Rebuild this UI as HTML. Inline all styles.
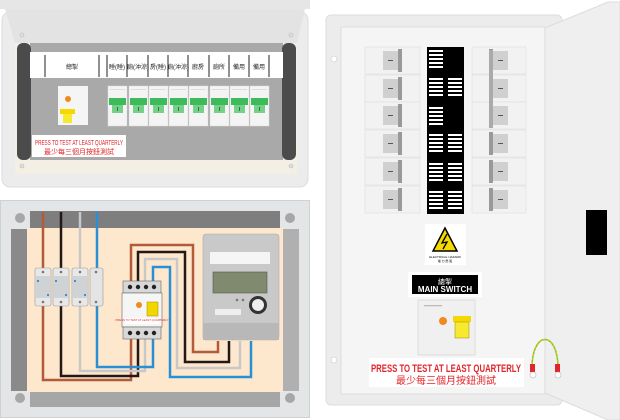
<!DOCTYPE html>
<html><head><meta charset="utf-8"><style>
html,body{margin:0;padding:0;background:#fff;width:620px;height:420px;overflow:hidden}
svg{display:block}
text{font-family:"Liberation Sans","Noto Sans CJK TC",sans-serif}
</style></head><body>
<svg width="620" height="420" viewBox="0 0 620 420" xmlns="http://www.w3.org/2000/svg">
<defs>
<g id="mcb"><rect x="0" y="0" width="19" height="40" fill="#f4f4f4" stroke="#ddd" stroke-width="0.5"/><rect x="1" y="12" width="17" height="7" fill="#3dbb5b"/><rect x="4" y="19" width="11" height="8" fill="#77d08a"/><rect x="9" y="21" width="1" height="4" fill="#2a7a3a"/><rect x="2" y="3" width="15" height="1" fill="#ddd"/></g>
<g id="brk"><rect x="0" y="0" width="55" height="27" fill="#f2f2f2" stroke="#ddd" stroke-width="0.6"/><rect x="18" y="4" width="15" height="19" fill="#d0d0d0"/><rect x="33" y="2" width="4" height="23" fill="#999"/><rect x="23" y="13" width="5" height="1" fill="#555"/></g>
<g id="brkR"><rect x="0" y="0" width="54" height="27" fill="#f2f2f2" stroke="#ddd" stroke-width="0.6"/><rect x="21" y="4" width="15" height="19" fill="#d0d0d0"/><rect x="17" y="2" width="4" height="23" fill="#999"/><rect x="26" y="13" width="5" height="1" fill="#555"/></g>
<g id="bars" fill="#fff"><rect x="0" y="0" width="14" height="2"/><rect x="0" y="4" width="14" height="2"/><rect x="0" y="8" width="14" height="2"/><rect x="0" y="12" width="14" height="2"/><rect x="0" y="16" width="14" height="2"/></g>
<g id="fuse"><rect x="0" y="0" width="16" height="38" rx="2" fill="#e8e8e8" stroke="#999" stroke-width="0.6"/><rect x="1" y="8" width="14" height="22" fill="#cfd3d6"/><circle cx="8" cy="4" r="1.3" fill="#777"/><circle cx="8" cy="34" r="1.3" fill="#777"/><rect x="2" y="12" width="2" height="2" fill="#3a8fd6"/><rect x="12" y="26" width="2" height="2" fill="#3a8fd6"/></g>
</defs>

<!-- TOP LEFT PANEL -->
<rect x="2" y="12" width="306" height="175" rx="8" fill="#ececec" stroke="#dcdcdc"/>
<rect x="15" y="29" width="282" height="145" fill="#f3efe4"/>
<rect x="0" y="0" width="310" height="9" fill="#e6e6e6"/>
<polygon points="5,9 305,9 297,43 15,43" fill="#e3e3e3"/>
<rect x="30" y="43" width="253" height="117" fill="#a9a9a9"/>
<rect x="17" y="43" width="14" height="117" rx="6" fill="#4b4b4b"/>
<rect x="282" y="43" width="14" height="117" rx="6" fill="#4b4b4b"/>
<rect x="30" y="52" width="253" height="26" fill="#fff"/>
<g stroke="#222" stroke-width="1"><line x1="45" y1="55" x2="45" y2="77"/><line x1="99" y1="55" x2="99" y2="77"/><line x1="107" y1="55" x2="107" y2="77"/><line x1="127" y1="55" x2="127" y2="77"/><line x1="148" y1="55" x2="148" y2="77"/><line x1="168" y1="55" x2="168" y2="77"/><line x1="188" y1="55" x2="188" y2="77"/><line x1="209" y1="55" x2="209" y2="77"/><line x1="229" y1="55" x2="229" y2="77"/><line x1="249" y1="55" x2="249" y2="77"/><line x1="269" y1="55" x2="269" y2="77"/></g>
<g font-size="6" fill="#222" text-anchor="middle"><text x="72" y="69">總掣</text><text x="117" y="69">睡(睡)</text><text x="138" y="69">廁(沖涼)</text><text x="158" y="69">房(睡)</text><text x="178" y="69">廁(沖涼)</text><text x="198" y="69">廚房</text><text x="219" y="69">廁所</text><text x="239" y="69">備用</text><text x="259" y="69">備用</text></g>
<rect x="58" y="86" width="30" height="39" fill="#f5f5f5"/>
<circle cx="68" cy="99" r="3" fill="#f08a1c"/>
<rect x="60" y="109" width="15" height="5" fill="#f5d800"/><rect x="63" y="114" width="9" height="9" fill="#f7e830"/>
<use href="#mcb" x="108" y="86"/><use href="#mcb" x="129" y="86"/><use href="#mcb" x="149" y="86"/><use href="#mcb" x="169" y="86"/><use href="#mcb" x="189" y="86"/><use href="#mcb" x="210" y="86"/><use href="#mcb" x="230" y="86"/><use href="#mcb" x="250" y="86"/>
<rect x="32" y="135" width="94" height="22" fill="#fff"/>
<text x="79" y="145" font-size="7" fill="#e0262b" text-anchor="middle" textLength="88" lengthAdjust="spacingAndGlyphs">PRESS TO TEST AT LEAST QUARTERLY</text>
<text x="79" y="154" font-size="7" fill="#e0262b" text-anchor="middle">最少每三個月按鈕測試</text>
<g fill="#ddd" stroke="#bbb" stroke-width="0.6"><circle cx="22" cy="35" r="2"/><circle cx="291" cy="35" r="2"/><circle cx="22" cy="166" r="2"/><circle cx="291" cy="166" r="2"/></g>

<!-- BOTTOM LEFT PANEL -->
<rect x="0.5" y="200.5" width="309" height="217" fill="#e3e5e7" stroke="#cfd2d5"/>
<rect x="30" y="211" width="250" height="17" fill="#7e7e7e"/>
<rect x="30" y="392" width="250" height="15" fill="#a6a6a6"/>
<rect x="11" y="229" width="16" height="162" fill="#8a8a8a"/>
<rect x="283" y="229" width="16" height="162" fill="#b0b0b0"/>
<rect x="27" y="228" width="256" height="164" fill="#fde8cd"/>
<g fill="#a7a7a7"><circle cx="20" cy="218" r="5"/><circle cx="290" cy="218" r="5"/><circle cx="20" cy="398" r="5"/><circle cx="290" cy="398" r="5"/></g>
<g fill="none" stroke-width="2.5">
<polyline points="43,212 43,380 131,380 131,245 193,245 193,352 218,352 218,341" stroke="#b35a3a"/>
<polyline points="61,212 61,376 138,376 138,252 185,252 185,362 229,362 229,341" stroke="#231815"/>
<polyline points="80,212 80,371 145,371 145,259 177,259 177,368 240,368 240,341" stroke="#c8c8c8"/>
<polyline points="97,212 97,367 153,367 153,267 170,267 170,377 251,377 251,341" stroke="#2b8fd6"/>
</g>
<use href="#fuse" x="35" y="268"/><use href="#fuse" x="53" y="268"/><use href="#fuse" x="72" y="268"/>
<rect x="90" y="268" width="13" height="38" rx="2" fill="#e4e4e4" stroke="#999" stroke-width="0.6"/><circle cx="96" cy="272" r="1.3" fill="#777"/><circle cx="96" cy="302" r="1.3" fill="#777"/>
<rect x="123" y="281" width="38" height="12" fill="#d8d8d8" stroke="#666" stroke-width="0.6"/>
<g fill="#222"><circle cx="130" cy="287" r="2.2"/><circle cx="138" cy="287" r="2.2"/><circle cx="146" cy="287" r="2.2"/><circle cx="154" cy="287" r="2.2"/><circle cx="130" cy="333" r="2.2"/><circle cx="138" cy="333" r="2.2"/><circle cx="146" cy="333" r="2.2"/><circle cx="154" cy="333" r="2.2"/></g>
<rect x="122" y="293" width="40" height="34" fill="#f5f5f5" stroke="#666" stroke-width="0.6"/>
<rect x="123" y="327" width="38" height="12" fill="#d8d8d8" stroke="#666" stroke-width="0.6"/>
<g fill="#222"><circle cx="130" cy="333" r="2.2"/><circle cx="138" cy="333" r="2.2"/><circle cx="146" cy="333" r="2.2"/><circle cx="154" cy="333" r="2.2"/></g>
<circle cx="139" cy="305" r="3" fill="#f08a1c"/>
<rect x="147" y="302" width="11" height="14" fill="#f2d600" stroke="#a08b00" stroke-width="0.5"/>
<rect x="125" y="318" width="34" height="6" fill="#fff"/>
<text x="142" y="321" font-size="2.8" fill="#e0262b" text-anchor="middle">PRESS TO TEST AT LEAST QUARTERLY</text>
<rect x="203" y="234" width="76" height="106" rx="3" fill="#c9c9c9" stroke="#aaa" stroke-width="0.6"/>
<rect x="203" y="323" width="76" height="17" fill="#b8b8b8"/>
<rect x="210" y="252" width="60" height="12" fill="#f5f5f5"/>
<rect x="213" y="272" width="54" height="21" fill="#7f8a6e" stroke="#555" stroke-width="0.6"/>
<rect x="215" y="309" width="26" height="6" fill="#eee"/>
<circle cx="237" cy="300" r="1.3" fill="#777"/><circle cx="243" cy="300" r="1.3" fill="#777"/>
<circle cx="258" cy="305" r="9" fill="#333"/><circle cx="258" cy="305" r="6" fill="#eee"/>

<!-- RIGHT PANEL -->
<rect x="326" y="15" width="236" height="390" rx="5" fill="#ececec" stroke="#ddd"/>
<rect x="341" y="27" width="204" height="367" fill="#f5f5f5" stroke="#ddd"/>
<polygon points="545,28 608,2 620,2 620,420 608,420 545,393" fill="#efefef" stroke="#dcdcdc"/>
<rect x="586" y="210" width="21" height="45" fill="#000"/>
<g fill="#fff" stroke="#ccc" stroke-width="0.6"><circle cx="334" cy="59" r="3"/><circle cx="334" cy="360" r="3"/></g>
<use href="#brk" x="365" y="47"/><use href="#brk" x="365" y="75"/><use href="#brk" x="365" y="102"/><use href="#brk" x="365" y="130"/><use href="#brk" x="365" y="158"/><use href="#brk" x="365" y="186"/>
<use href="#brkR" x="472" y="47"/><use href="#brkR" x="472" y="75"/><use href="#brkR" x="472" y="102"/><use href="#brkR" x="472" y="130"/><use href="#brkR" x="472" y="158"/><use href="#brkR" x="472" y="186"/>
<rect x="489" y="50" width="4" height="78" fill="#aaa"/>
<rect x="427" y="47" width="37" height="167" fill="#000"/>
<use href="#bars" x="429" y="50"/><use href="#bars" x="429" y="78"/><use href="#bars" x="448" y="78"/><use href="#bars" x="429" y="107"/>
<use href="#bars" x="429" y="134"/><use href="#bars" x="448" y="134"/><use href="#bars" x="429" y="163"/><use href="#bars" x="448" y="163"/><use href="#bars" x="429" y="191"/><use href="#bars" x="448" y="191"/>
<rect x="425" y="224" width="41" height="41" fill="#fff"/>
<polygon points="445,228 433,251 457,251" fill="#f5d800" stroke="#000" stroke-width="1.5"/>
<polyline points="447,234 442,243 447,242 443,249" fill="none" stroke="#000" stroke-width="1.3"/>
<text x="445" y="258" font-size="3" text-anchor="middle" fill="#000">ELECTRICAL HAZARD</text>
<text x="445" y="262" font-size="3" text-anchor="middle" fill="#000">電 力 危 險</text>
<rect x="408" y="272" width="74" height="25" fill="#fff"/>
<rect x="412" y="275" width="66" height="19" fill="#000"/>
<text x="445" y="284" font-size="7" fill="#fff" text-anchor="middle">總掣</text>
<text x="445" y="292" font-size="8" font-weight="bold" fill="#fff" text-anchor="middle">MAIN SWITCH</text>
<rect x="418" y="300" width="57" height="55" fill="#f0f0f0" stroke="#ddd"/>
<rect x="424" y="305" width="18" height="1.3" fill="#bbb"/>
<circle cx="443" cy="321" r="4" fill="#f08a1c"/>
<rect x="453" y="316" width="18" height="6" fill="#f5d800"/><rect x="455" y="322" width="14" height="16" fill="#f7e830" stroke="#a08b00" stroke-width="0.5"/>
<rect x="369" y="358" width="155" height="29" fill="#fff"/>
<text x="446" y="372" font-size="11" font-weight="bold" fill="#e0262b" text-anchor="middle" textLength="150" lengthAdjust="spacingAndGlyphs">PRESS TO TEST AT LEAST QUARTERLY</text>
<text x="446" y="384" font-size="10" fill="#e0262b" text-anchor="middle">最少每三個月按鈕測試</text>
<path d="M532,368 C532,330 558,330 558,368" fill="none" stroke="#8fc31f" stroke-width="1.5"/>
<path d="M532,368 C532,330 558,330 558,368" fill="none" stroke="#f2d600" stroke-width="0.6" stroke-dasharray="2 2"/>
<rect x="530" y="364" width="5" height="8" fill="#e0262b"/><rect x="555" y="364" width="5" height="8" fill="#e0262b"/>
<g fill="#fff" stroke="#bbb" stroke-width="0.6"><circle cx="533" cy="375" r="3"/><circle cx="558" cy="375" r="3"/></g>
</svg>
</body></html>
